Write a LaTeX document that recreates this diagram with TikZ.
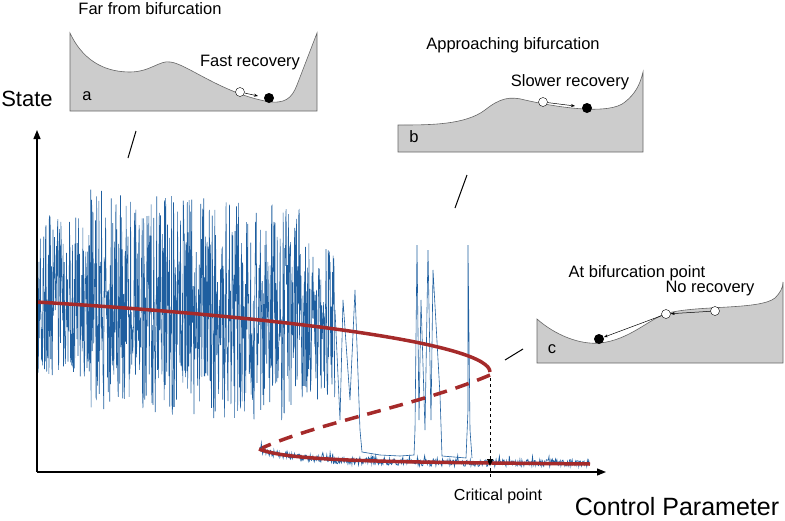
\documentclass[tikz,border=0pt]{standalone}
\usepackage{fontspec}
\setmainfont{Liberation Sans}
\usetikzlibrary{arrows.meta}
\definecolor{bred}{HTML}{A52A2A}
\definecolor{nblue}{HTML}{1F5FA0}
\definecolor{land}{HTML}{CCCCCC}
\tikzset{
 land/.style={fill=land,draw=gray!80!black,line width=0.6pt},
 title/.style={font=\fontsize{16.5}{18}\selectfont},
 openball/.style={circle,draw=black,fill=white,inner sep=0pt,minimum size=9pt},
 fullball/.style={circle,fill=black,inner sep=0pt,minimum size=10pt},
 thin arr/.style={-{Stealth[length=4pt]},line width=0.5pt},
 conn/.style={line width=1pt},
 branch/.style={bred,line width=3.5pt},
}
\begin{document}
\begin{tikzpicture}[x=1pt,y=-1pt]
\useasboundingbox (0,0) rectangle (785,520);
\pgfmathsetseed{7}
% noise upper
\draw[nblue,line width=0.6pt] plot[domain=37:335,samples=800] (\x,{370-sqrt((490-\x)/0.098)-8+(80+30*(\x>90)*(\x<300))*rand});
\draw[nblue,line width=0.6pt] (335,310)--(340,420)--(343,300)--(350,400)--(355,290)--(360,430)--(362,452)--(380,455)--(400,456)--(414,455)--(415,430)--(417,245)--(419,420)--(421,300)--(425,430)--(428,250)--(431,420)--(433,270)--(440,395)--(442,456)--(466,458)--(468,410)--(468,245)--(470,430)--(472,458);
% lower noise
\draw[nblue,line width=0.7pt] plot[domain=260:590,samples=500] (\x,{463-13*exp(-(\x-259)/50)+3.5*rand-4*(rand>0.8)});
% red branches
\draw[branch] (37,302) .. controls (300,318) and (490,345) .. (490,372);
\draw[branch,dash pattern=on 14pt off 9pt] (490,375) .. controls (420,405) and (320,422) .. (262,448);
\draw[branch] (259,449) .. controls (290,462) and (400,462) .. (590,464);
% axes
\coordinate (O) at (37,472);
\coordinate (Ytop) at (37,130);
\coordinate (Xend) at (606,472);
\draw[line width=1.2pt,-{Triangle[length=9pt,width=7pt]}] (O)--(Ytop);
\draw[line width=1.2pt,-{Triangle[length=9pt,width=7pt]}] (O)--(Xend);
\coordinate (cp) at (490,378);
\coordinate (cpb) at (490,466);
\draw[dashed,line width=1pt,-{Triangle[length=7pt,width=6pt]}] (cp)--(cpb);
\draw[dashed,line width=1pt] (490,468)--(490,478);
\node[font=\fontsize{22}{24}\selectfont] (st) at (27,99) {State};
\node[font=\fontsize{25}{28}\selectfont] (cpar) at (677,507) {Control Parameter};
\node[font=\fontsize{16}{18}\selectfont] (crit) at (498,496) {Critical point};
% inset a
\draw[land] (70,33) .. controls (85,65) and (110,72) .. (130,72) .. controls (150,72) and (160,60) .. (170,62) .. controls (185,63) and (220,92) .. (265,101) .. controls (285,105) and (292,98) .. (297,85) -- (317,33) -- (317,111) -- (70,111) -- cycle;
\node[title] (ta) at (150,9) {Far from bifurcation};
\node[title] (fa) at (250,63) {Fast recovery};
\node[title] (la) at (87,96) {a};
\node[openball] (a1) at (240,92) {};
\node[fullball] (a2) at (269,98) {};
\draw[thin arr] (a1)--(258,96);
% inset b
\draw[land] (398,125) .. controls (430,125) and (465,125) .. (485,110) .. controls (500,98) and (510,96) .. (525,100) .. controls (560,108) and (610,115) .. (625,102) .. controls (635,94) and (640,85) .. (643,72) -- (643,152) -- (398,152) -- cycle;
\node[title] (tb) at (513,45) {Approaching bifurcation};
\node[title] (fb) at (570,82) {Slower recovery};
\node[title] (lb) at (414,137) {b};
\node[openball] (b1) at (543,102) {};
\node[fullball] (b2) at (587,108) {};
\draw[thin arr] (b1)--(575,106);
% inset c
\draw[land] (537,319) .. controls (555,335) and (580,345) .. (600,343) .. controls (630,340) and (650,318) .. (668,313) .. controls (700,305) and (760,310) .. (775,298) .. controls (780,293) and (783,288) .. (783,282) -- (783,363) -- (537,363) -- cycle;
\node[title] (tc) at (637,273) {At bifurcation point};
\node[title] (fc) at (710,289) {No recovery};
\node[title] (lc) at (552,349) {c};
\node[openball] (c1) at (715,311) {};
\node[openball] (c2) at (666,314) {};
\node[fullball] (c3) at (599,339) {};
\draw[thin arr] (c1)--(c2);
\draw[thin arr] (c2)--(c3);
% connector ticks
\coordinate (la1) at (128,158); \coordinate (la2) at (136,131);
\coordinate (lb1) at (455,208); \coordinate (lb2) at (467,175);
\coordinate (lc1) at (505,360); \coordinate (lc2) at (523,349);
\draw[conn] (la1)--(la2);
\draw[conn] (lb1)--(lb2);
\draw[conn] (lc1)--(lc2);
\end{tikzpicture}
\end{document}
